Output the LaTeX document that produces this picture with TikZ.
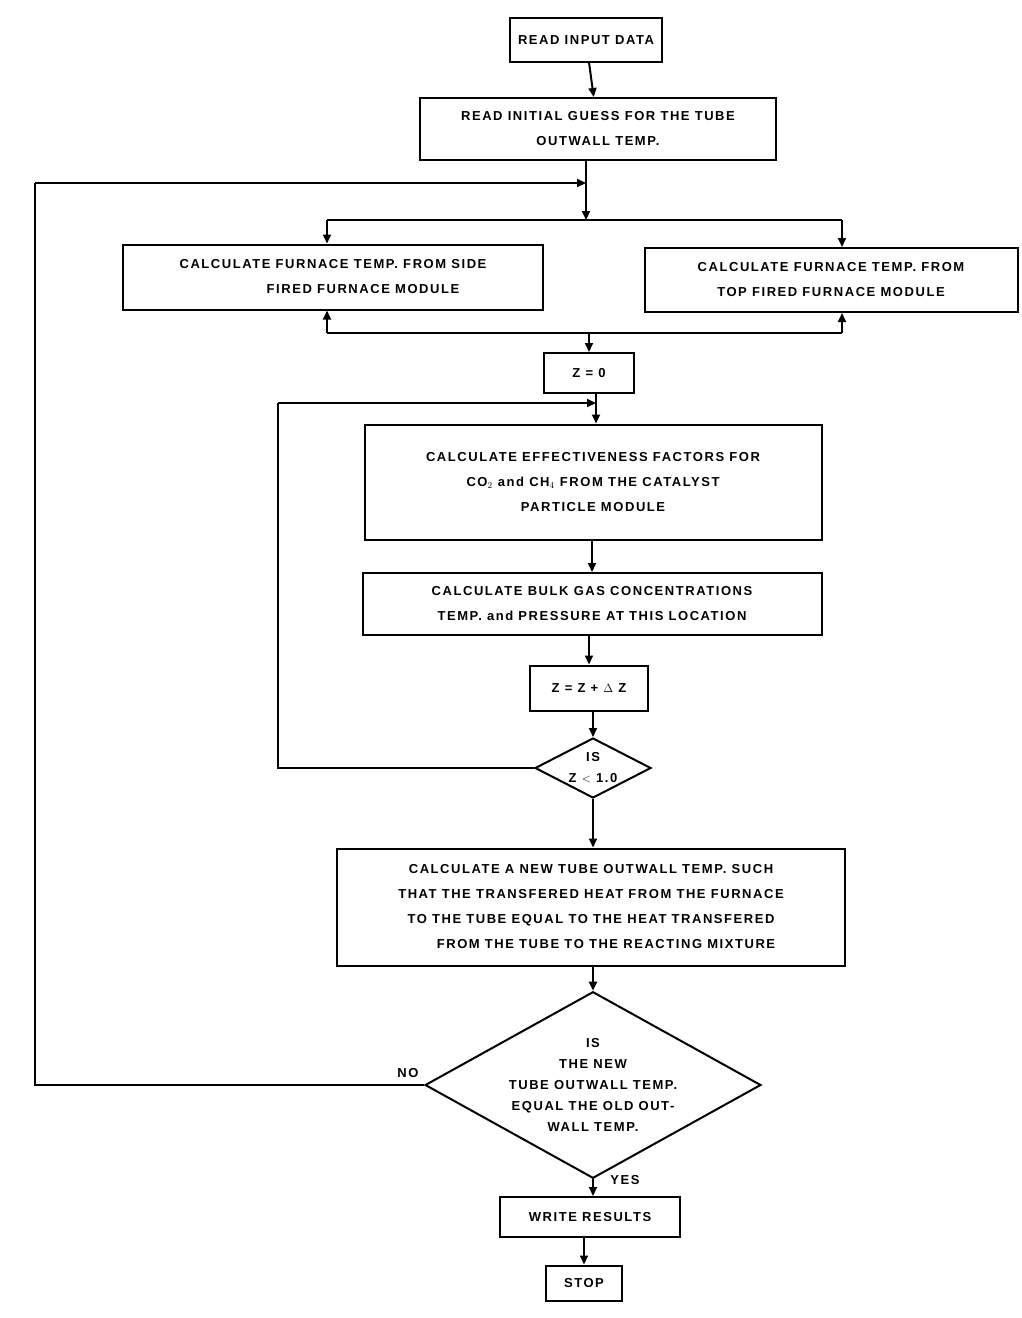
\documentclass[tikz,border=0pt]{standalone}
\usepackage{fontspec}
\setmainfont{Liberation Sans}[LetterSpace=12]
\usetikzlibrary{arrows.meta,shapes.geometric}
\begin{document}
\begin{tikzpicture}[x=1pt,y=-1pt,line width=2pt,
 box/.style={draw,rectangle,align=center,inner sep=0pt,font=\bfseries\fontsize{13}{25}\selectfont},
 dia/.style={draw,diamond,aspect=1.8,inner sep=0pt,align=center,font=\bfseries\fontsize{13}{21}\selectfont},
 ar/.style={-{Triangle[length=9pt,width=8pt]}},
 lab/.style={font=\bfseries\fontsize{13}{16}\selectfont}]
\useasboundingbox (0,0) rectangle (1022,1318);
\node[box,minimum width=152,minimum height=44] (read) at (586,40) {READ INPUT DATA};
\node[box,minimum width=356,minimum height=62] (guess) at (598,129) {READ INITIAL GUESS FOR THE TUBE\\OUTWALL TEMP.};
\node[box,minimum width=420,minimum height=65] (side) at (333,277) {CALCULATE FURNACE TEMP. FROM SIDE\\\hspace*{60pt}FIRED FURNACE MODULE};
\node[box,minimum width=373,minimum height=64] (top) at (831,280) {CALCULATE FURNACE TEMP. FROM\\TOP FIRED FURNACE MODULE};
\node[box,minimum width=90,minimum height=40] (z0) at (589,373) {Z = 0};
\node[box,minimum width=457,minimum height=115] (eff) at (593,482) {CALCULATE EFFECTIVENESS FACTORS FOR\\CO$_2$ and CH$_4$ FROM THE CATALYST\\PARTICLE MODULE};
\node[box,minimum width=459,minimum height=62] (bulk) at (592,604) {CALCULATE BULK GAS CONCENTRATIONS\\TEMP. and PRESSURE AT THIS LOCATION};
\node[box,minimum width=118,minimum height=45] (dz) at (589,688) {Z = Z + $\Delta$ Z};
\node[dia,minimum width=116,minimum height=60] (d1) at (593,768) {IS\\Z $<$ 1.0};
\node[box,minimum width=508,minimum height=117] (new) at (591,907) {CALCULATE A NEW TUBE OUTWALL TEMP. SUCH\\THAT THE TRANSFERED HEAT FROM THE FURNACE\\TO THE TUBE EQUAL TO THE HEAT TRANSFERED\\\hspace*{30pt}FROM THE TUBE TO THE REACTING MIXTURE};
\node[dia,minimum width=300,minimum height=174] (d2) at (593,1085) {IS\\THE NEW\\TUBE OUTWALL TEMP.\\EQUAL THE OLD OUT-\\WALL TEMP.};
\node[box,minimum width=180,minimum height=40] (write) at (590,1217) {WRITE RESULTS};
\node[box,minimum width=76,minimum height=35] (stop) at (584,1283) {STOP};
\coordinate (j1) at (586,183);
\coordinate (b1) at (586,220);
\coordinate (bl) at (327,220);
\coordinate (br) at (842,220);
\coordinate (ml) at (327,333);
\coordinate (mr) at (842,333);
\coordinate (mc) at (589,333);
\coordinate (j2) at (596,403);
\coordinate (l1) at (35,183);
\coordinate (l2) at (35,1085);
\coordinate (k1) at (278,768);
\coordinate (k2) at (278,403);
\draw[ar] (read) -- (guess);
\draw[ar] (guess.south -| j1) -- (b1);
\draw (bl) -- (br);
\draw[ar] (bl) -- (bl |- side.north);
\draw[ar] (br) -- (br |- top.north);
\draw[ar] (ml) -- (ml |- side.south);
\draw[ar] (mr) -- (mr |- top.south);
\draw (ml) -- (mr);
\draw[ar] (mc) -- (z0);
\draw[ar] (z0.south -| j2) -- (j2 |- eff.north);
\draw[ar] (eff.south -| bulk) -- (bulk);
\draw[ar] (bulk.south -| dz) -- (dz);
\draw[ar] (dz.south -| d1) -- (d1);
\draw (d1.west) -- (k1) -- (k2);
\draw[ar] (k2) -- (j2);
\draw[ar] (d1) -- (d1 |- new.north);
\draw[ar] (new.south -| d2) -- (d2);
\draw (d2.west) -- (l2) -- (l1);
\draw[ar] (l1) -- (j1);
\draw[ar] (d2) -- (d2 |- write.north);
\draw[ar] (write.south -| stop) -- (stop);
\node[lab] (no) at (408,1073) {NO};
\node[lab] (yes) at (625,1180) {YES};
\end{tikzpicture}
\end{document}
